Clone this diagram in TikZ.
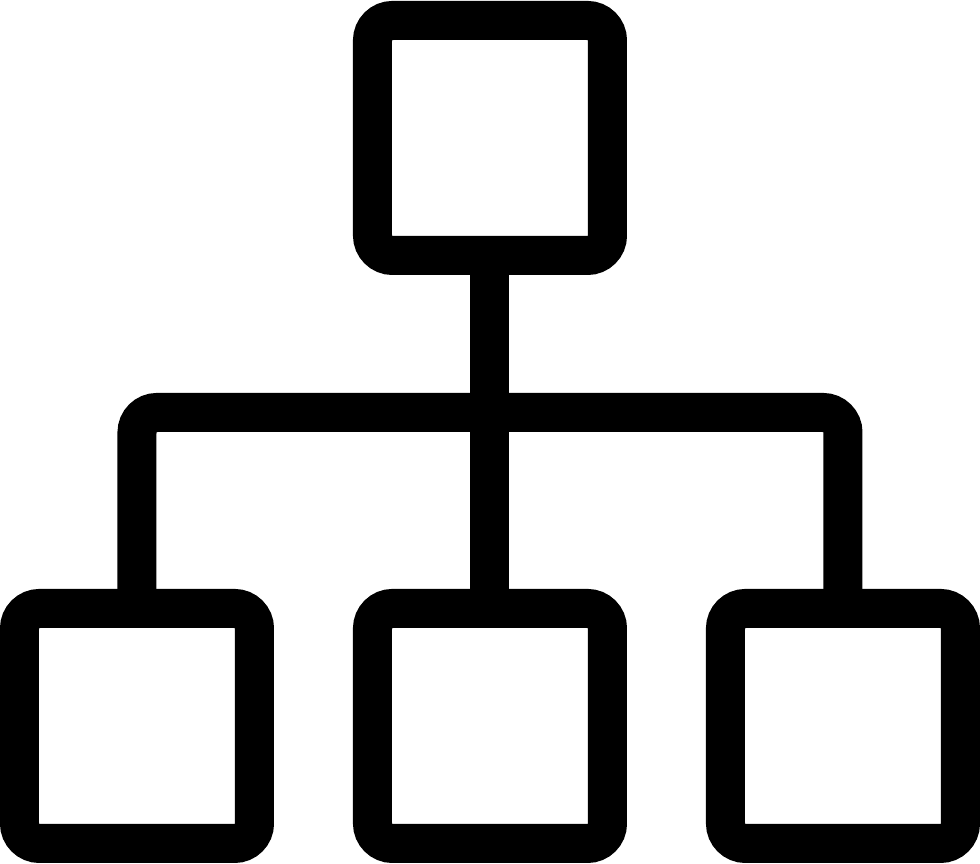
\documentclass[tikz,border=0pt]{standalone}
\usetikzlibrary{positioning}

\begin{document}
\begin{tikzpicture}
	\useasboundingbox (0,0) rectangle (9.8,8.64);
	\begin{scope}[every node/.style={rectangle, draw, line width=0.39cm, rounded corners=0.2cm, minimum size=2.35cm, inner sep=0pt}]
	    	\node (1) at (4.90,7.26) {};
	    	\node (2) at (1.37,1.38) {};
	    	\node (3) at (4.90,1.38) {};
	    	\node (4) at (8.43,1.38) {};
	\end{scope}
	\coordinate (5) at (4.90,4.515);

	\begin{scope}[every edge/.style={draw=black, line width=0.39cm}]
		\path (1) edge (3);
		\draw[line width=0.39cm, rounded corners=0.2cm] (2.north) |- (5) -| (4.north);
	\end{scope}
\end{tikzpicture}
\end{document}
